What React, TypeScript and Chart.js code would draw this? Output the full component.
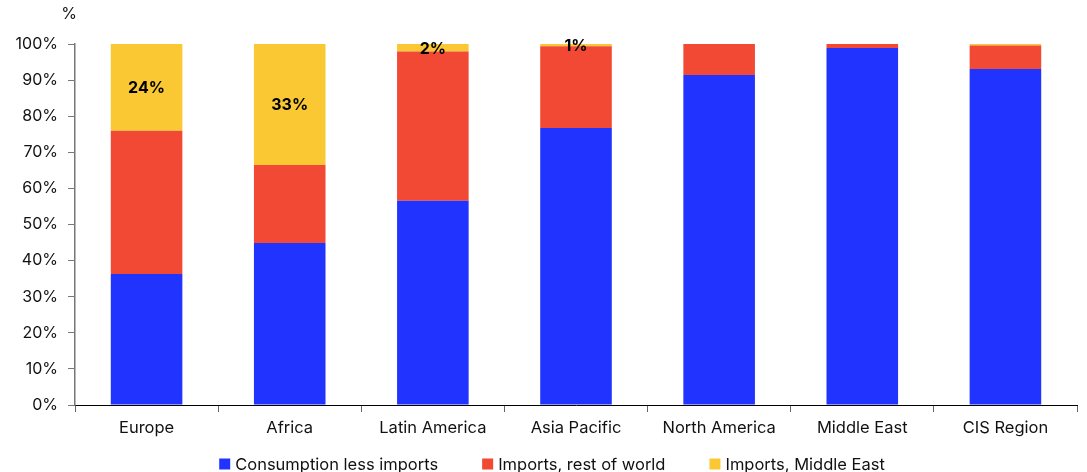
import React, { useEffect, useRef } from "react";
import { Chart, registerables } from "chart.js";

Chart.register(...registerables);

const categories = ["Europe", "Africa", "Latin America", "Asia Pacific", "North America", "Middle East", "CIS Region"];
const consumptionLessImports = [36.3, 44.9, 56.6, 76.7, 91.4, 98.9, 93.1];
const importsRestOfWorld = [39.7, 21.6, 41.3, 22.7, 8.6, 1.1, 6.5];
const importsMiddleEast = [24.0, 33.5, 2.1, 0.6, 0, 0, 0.4];
const middleEastLabels = ["24%", "33%", "2%", "1%", "", "", ""];
const seriesNames = ["Consumption less imports", "Imports, rest of world", "Imports, Middle East"];
const seriesColors = ["#2033FF", "#F14933", "#F9C833"];
const yTicks = [0, 10, 20, 30, 40, 50, 60, 70, 80, 90, 100];

const FONT = "Inter, 'Noto Sans', sans-serif";

const segmentLabelPlugin = {
  id: "segmentLabels",
  afterDatasetsDraw(chart: any) {
    const meta = chart.getDatasetMeta(2);
    const ctx = chart.ctx;
    ctx.save();
    ctx.font = `bold 16px ${FONT}`;
    ctx.fillStyle = "#000";
    ctx.textAlign = "center";
    ctx.textBaseline = "middle";
    meta.data.forEach((el: any, i: number) => {
      const t = middleEastLabels[i];
      if (!t) return;
      const { x, y, base } = el.getProps(["x", "y", "base"], true);
      ctx.fillText(t, x, (y + base) / 2 + 1);
    });
    ctx.restore();
  },
};

const extrasPlugin = {
  id: "extras",
  afterDraw(chart: any) {
    const ctx = chart.ctx;
    ctx.save();
    // unit title
    ctx.font = `16px ${FONT}`;
    ctx.fillStyle = "#111";
    ctx.textAlign = "center";
    ctx.textBaseline = "middle";
    ctx.fillText("%", 69, 14);
    // legend
    ctx.font = `16.5px ${FONT}`;
    ctx.textAlign = "left";
    const box = 11;
    const gap = 5;
    const spacing = 44;
    const widths = seriesNames.map((n) => box + gap + ctx.measureText(n).width);
    const total = widths.reduce((a, b) => a + b, 0) + spacing * (widths.length - 1);
    let x = 552 - total / 2;
    const yc = 464;
    chart.data.datasets.forEach((ds: any, i: number) => {
      ctx.fillStyle = ds.backgroundColor;
      ctx.fillRect(x, yc - box / 2, box, box);
      ctx.fillStyle = "#111";
      ctx.fillText(ds.label, x + box + gap, yc + 1);
      x += widths[i] + spacing;
    });
    ctx.restore();
  },
};

export default function App() {
  const ref = useRef<HTMLCanvasElement>(null);
  useEffect(() => {
    if (!ref.current) return;
    const chart = new Chart(ref.current, {
      type: "bar",
      data: {
        labels: categories,
        datasets: [
          { label: seriesNames[0], data: consumptionLessImports, backgroundColor: seriesColors[0] },
          { label: seriesNames[1], data: importsRestOfWorld, backgroundColor: seriesColors[1] },
          { label: seriesNames[2], data: importsMiddleEast, backgroundColor: seriesColors[2] },
        ],
      },
      options: {
        animation: false,
        responsive: false,
        devicePixelRatio: 1,
        layout: { padding: { top: 44, right: 10, left: 0, bottom: 30 } },
        datasets: { bar: { categoryPercentage: 0.5, barPercentage: 1 } },
        plugins: {
          legend: { display: false },
          tooltip: { enabled: false },
        },
        scales: {
          x: {
            stacked: true,
            afterFit(scale: any) {
              scale.height = 472 - 405 - 30;
            },
            grid: { display: true, drawOnChartArea: false, drawTicks: true, tickLength: 7, offset: true, color: "#666" },
            border: { display: true, color: "#000", width: 1 },
            ticks: { color: "#111", font: { family: FONT, size: 16.5 }, padding: 6 },
          },
          y: {
            stacked: true,
            min: 0,
            max: 100,
            afterFit(scale: any) {
              scale.width = 75;
            },
            afterBuildTicks(scale: any) {
              scale.ticks = yTicks.map((v) => ({ value: v }));
            },
            grid: { display: true, drawOnChartArea: false, drawTicks: true, tickLength: 7, color: "#777" },
            border: { display: true, color: "#777", width: 1.5 },
            ticks: { color: "#111", font: { family: FONT, size: 16 }, padding: 10, callback: (v: any) => v + "%" },
          },
        },
      },
      plugins: [segmentLabelPlugin, extrasPlugin],
    });
    return () => chart.destroy();
  }, []);
  return (
    <div style={{ position: "absolute", left: 0, top: 0, width: 1087, height: 472, background: "#fff" }}>
      <canvas ref={ref} width={1087} height={472} style={{ width: 1087, height: 472 }} />
    </div>
  );
}
